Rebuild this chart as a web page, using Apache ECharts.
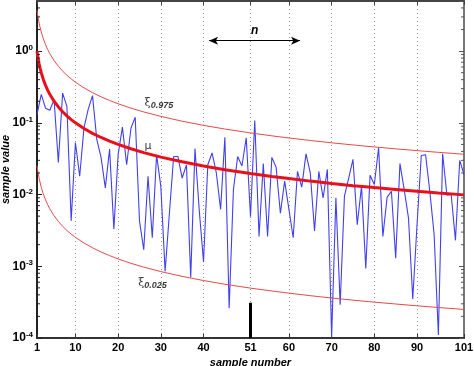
<!DOCTYPE html>
<html><head><meta charset="utf-8">
<script src="https://cdn.jsdelivr.net/npm/echarts@6/dist/echarts.min.js"></script>
<style>html,body{margin:0;padding:0;background:#fff}#c{width:474px;height:366px}</style>
</head><body><div id="c"></div>
<script>
// sample numbers 1..101
const sampleNumbers = Array.from({length: 101}, (_, i) => i + 1);
// blue sample values
const sampleValues = [
  0.13, 0.25, 0.16, 0.15, 0.21, 0.028, 0.26, 0.17, 0.0043, 0.053,
  0.018, 0.085, 0.155, 0.24, 0.059, 0.033, 0.0124, 0.043, 0.0033, 0.036,
  0.087, 0.026, 0.084, 0.12, 0.0043, 0.0017, 0.018, 0.0025, 0.036, 0.013,
  0.00085, 0.0054, 0.034, 0.034, 0.017, 0.026, 0.0007, 0.044, 0.006, 0.00115,
  0.026, 0.038, 0.020, 0.0062, 0.063, 0.00026, 0.0117, 0.034, 0.025, 0.062,
  0.0049, 0.108, 0.0026, 0.027, 0.0026, 0.033, 0.024, 0.0055, 0.0154, 0.0062,
  0.0025, 0.021, 0.0127, 0.037, 0.020, 0.0031, 0.021, 0.009, 0.0224, 0.000102,
  0.009, 0.00029, 0.0095, 0.017, 0.031, 0.0038, 0.013, 0.00093, 0.0186, 0.0138,
  0.045, 0.0026, 0.0092, 0.0111, 0.0013, 0.027, 0.0117, 0.0047, 0.00035, 0.0038,
  0.035, 0.036, 0.011, 0.0028, 0.00011, 0.037, 0.0098, 0.010, 0.0023, 0.030,
  0.019
];
// smooth curves (mean μ, upper ξ0.975, lower ξ0.025)
const curveX      = [1, 1.25, 1.5, 1.75, 2, 2.5, 3, 3.5, 4, 5, 6, 7, 8, 9, 10, 12, 14, 16, 18, 20, 23, 26, 30, 35, 40, 45, 51, 56, 60, 65, 70, 75, 80, 85, 90, 95, 101];
const meanValues  = [1, 0.8, 0.667, 0.571, 0.5, 0.4, 0.333, 0.286, 0.25, 0.2, 0.1667, 0.1429, 0.125, 0.111, 0.1, 0.0833, 0.0714, 0.0625, 0.0556, 0.05, 0.0435, 0.0385, 0.0333, 0.0286, 0.025, 0.0222, 0.0196, 0.0179, 0.0167, 0.0154, 0.0143, 0.0133, 0.0125, 0.0118, 0.0111, 0.0105, 0.0099];
const upperValues = [3.69, 2.95, 2.46, 2.11, 1.845, 1.476, 1.23, 1.054, 0.923, 0.738, 0.615, 0.527, 0.461, 0.41, 0.369, 0.3075, 0.2636, 0.2306, 0.205, 0.1845, 0.1604, 0.1419, 0.123, 0.1054, 0.0923, 0.082, 0.0724, 0.0659, 0.0615, 0.0568, 0.0527, 0.0492, 0.0461, 0.0434, 0.041, 0.0388, 0.0365];
const lowerValues = [0.0253, 0.0202, 0.0169, 0.0145, 0.01265, 0.0101, 0.00843, 0.00723, 0.00633, 0.00506, 0.00422, 0.00361, 0.00316, 0.00281, 0.00253, 0.00211, 0.00181, 0.00158, 0.00141, 0.001265, 0.0011, 0.000973, 0.000843, 0.000723, 0.000633, 0.000562, 0.000496, 0.000452, 0.000422, 0.000389, 0.000361, 0.000337, 0.000316, 0.000298, 0.000281, 0.000266, 0.00025];
// tick labels
const xTickLabels = [1, 10, 20, 30, 40, 51, 60, 70, 80, 90, 101];
const yTickLabels = [1e-4, 1e-3, 1e-2, 1e-1, 1];

const FONT = 'Liberation Sans, Arial, sans-serif';
const minorTicks = [];
for (let e = -4; e <= 0; e++) for (let m = 2; m <= 9; m++) { const v = m * Math.pow(10, e); if (v < 5) minorTicks.push([1, v]); }

const isTick = (idx, val) => xTickLabels.includes(Number(val));
const isInner = (idx, val) => { const n = Number(val); return xTickLabels.includes(n) && n !== 1 && n !== 101; };
const cats = sampleNumbers.map(String);
const pairs = (xs, ys) => xs.map((x, i) => [x, ys[i]]);

const chart = echarts.init(document.getElementById('c'), null, {renderer: 'canvas'});
chart.setOption({
  animation: false,
  backgroundColor: '#fff',
  grid: {left: 37, right: 10, top: 1, bottom: 28, containLabel: false, outerBoundsMode: 'none'},
  xAxis: [
    {type: 'category', data: cats, boundaryGap: false, position: 'bottom',
     name: 'sample number', nameLocation: 'middle', nameGap: 14,
     nameTextStyle: {fontFamily: FONT, fontSize: 11, fontWeight: 'bold', fontStyle: 'italic', color: '#000'},
     axisLine: {lineStyle: {color: '#333', width: 2}},
     axisTick: {inside: true, length: 4, interval: isTick, lineStyle: {color: '#333'}},
     axisLabel: {interval: isTick, margin: 4, fontFamily: FONT, fontSize: 11, fontWeight: 'bold', color: '#000'},
     splitLine: {show: true, interval: isInner, lineStyle: {type: [1, 3], color: '#999', width: 1}}},
    {type: 'category', data: cats, boundaryGap: false, position: 'top',
     axisLine: {lineStyle: {color: '#444', width: 2}},
     axisTick: {inside: true, length: 4, interval: isTick, lineStyle: {color: '#444'}},
     axisLabel: {show: false}, splitLine: {show: false}},
    {type: 'value', min: 1, max: 101, show: false}
  ],
  yAxis: [
    {type: 'log', logBase: 10, min: 1e-4, max: 5, position: 'left',
     name: 'sample value', nameLocation: 'middle', nameGap: 26, nameMoveOverlap: false,
     nameTextStyle: {fontFamily: FONT, fontSize: 11, fontWeight: 'bold', fontStyle: 'italic', color: '#000'},
     axisLine: {show: true, lineStyle: {color: '#222', width: 2}},
     axisTick: {inside: true, length: 5, lineStyle: {color: '#222'}},
     splitLine: {show: false},
     axisLabel: {margin: 4, showMaxLabel: false,
       formatter: v => {
         const e = Math.log10(v), r = Math.round(e);
         if (Math.abs(e - r) > 1e-6 || !yTickLabels.some(t => Math.abs(Math.log10(t) - r) < 1e-6)) return '';
         return '{b|10}{s|' + (r < 0 ? '-' + (-r) : r) + '}';
       },
       rich: {b: {fontFamily: FONT, fontSize: 12, fontWeight: 'bold', color: '#000', lineHeight: 14},
              s: {fontFamily: FONT, fontSize: 8, fontWeight: 'bold', color: '#000', verticalAlign: 'top', lineHeight: 9}}}},
    {type: 'log', logBase: 10, min: 1e-4, max: 5, position: 'right',
     axisLine: {show: true, lineStyle: {color: '#777', width: 2}},
     axisTick: {inside: true, length: 5, lineStyle: {color: '#555'}},
     axisLabel: {show: false}, splitLine: {show: false}}
  ],
  series: [
    {type: 'line', xAxisIndex: 2, yAxisIndex: 0, data: pairs(sampleNumbers, sampleValues),
     showSymbol: false, lineStyle: {color: '#4040ee', width: 1.1}, z: 2,
     markLine: {silent: true, animation: false, symbol: 'none',
       data: [
         [{coord: [51, 1e-4], lineStyle: {color: '#000', width: 3, type: 'solid'}, label: {show: false}},
          {coord: [51, 3.1e-4]}],
         [{coord: [41.3, 1.4], symbol: 'arrow', symbolSize: [6, 9], lineStyle: {color: '#000', width: 1, type: 'solid'},
           label: {show: true, position: 'middle', formatter: 'n', distance: 4, fontFamily: FONT, fontSize: 12, fontWeight: 'bold', fontStyle: 'italic', color: '#000'}},
          {coord: [62.6, 1.4], symbol: 'arrow', symbolSize: [6, 9]}]
       ]}},
    {type: 'line', xAxisIndex: 2, yAxisIndex: 0, data: pairs(curveX, upperValues),
     showSymbol: false, lineStyle: {color: '#e34a4a', width: 1}, z: 3},
    {type: 'line', xAxisIndex: 2, yAxisIndex: 0, data: pairs(curveX, lowerValues),
     showSymbol: false, lineStyle: {color: '#e34a4a', width: 1}, z: 3},
    {type: 'line', xAxisIndex: 2, yAxisIndex: 0, data: pairs(curveX, meanValues),
     showSymbol: false, lineStyle: {color: '#e8101a', width: 3}, z: 4},
    {type: 'scatter', xAxisIndex: 2, yAxisIndex: 0, symbolSize: 0, z: 5, silent: true,
     data: [[26.2, 0.19, '{x|ξ}{s|0.975}'], [26.2, 0.048, '{m|μ}'], [24.7, 0.00059, '{x|ξ}{s|0.025}']],
     label: {show: true, position: 'inside', align: 'left', verticalAlign: 'middle',
       formatter: p => p.data[2],
       rich: {x: {fontFamily: 'DejaVu Serif, serif', fontSize: 11, color: '#000', lineHeight: 14},
              s: {fontFamily: FONT, fontSize: 9, fontWeight: 'bold', fontStyle: 'italic', color: '#000', verticalAlign: 'bottom', lineHeight: 9},
              m: {fontFamily: 'DejaVu Sans, sans-serif', fontSize: 11, color: '#000'}}}},
    {type: 'custom', xAxisIndex: 2, yAxisIndex: 0, data: minorTicks, silent: true, z: 6,
     renderItem: (params, api) => {
       const p = api.coord([1, api.value(1)]);
       const cs = params.coordSys;
       return {type: 'group', children: [
         {type: 'line', shape: {x1: cs.x, y1: p[1], x2: cs.x + 3, y2: p[1]}, style: {stroke: '#222', lineWidth: 1}},
         {type: 'line', shape: {x1: cs.x + cs.width - 3, y1: p[1], x2: cs.x + cs.width, y2: p[1]}, style: {stroke: '#555', lineWidth: 1}}
       ]};
     }}
  ]
});
</script></body></html>
